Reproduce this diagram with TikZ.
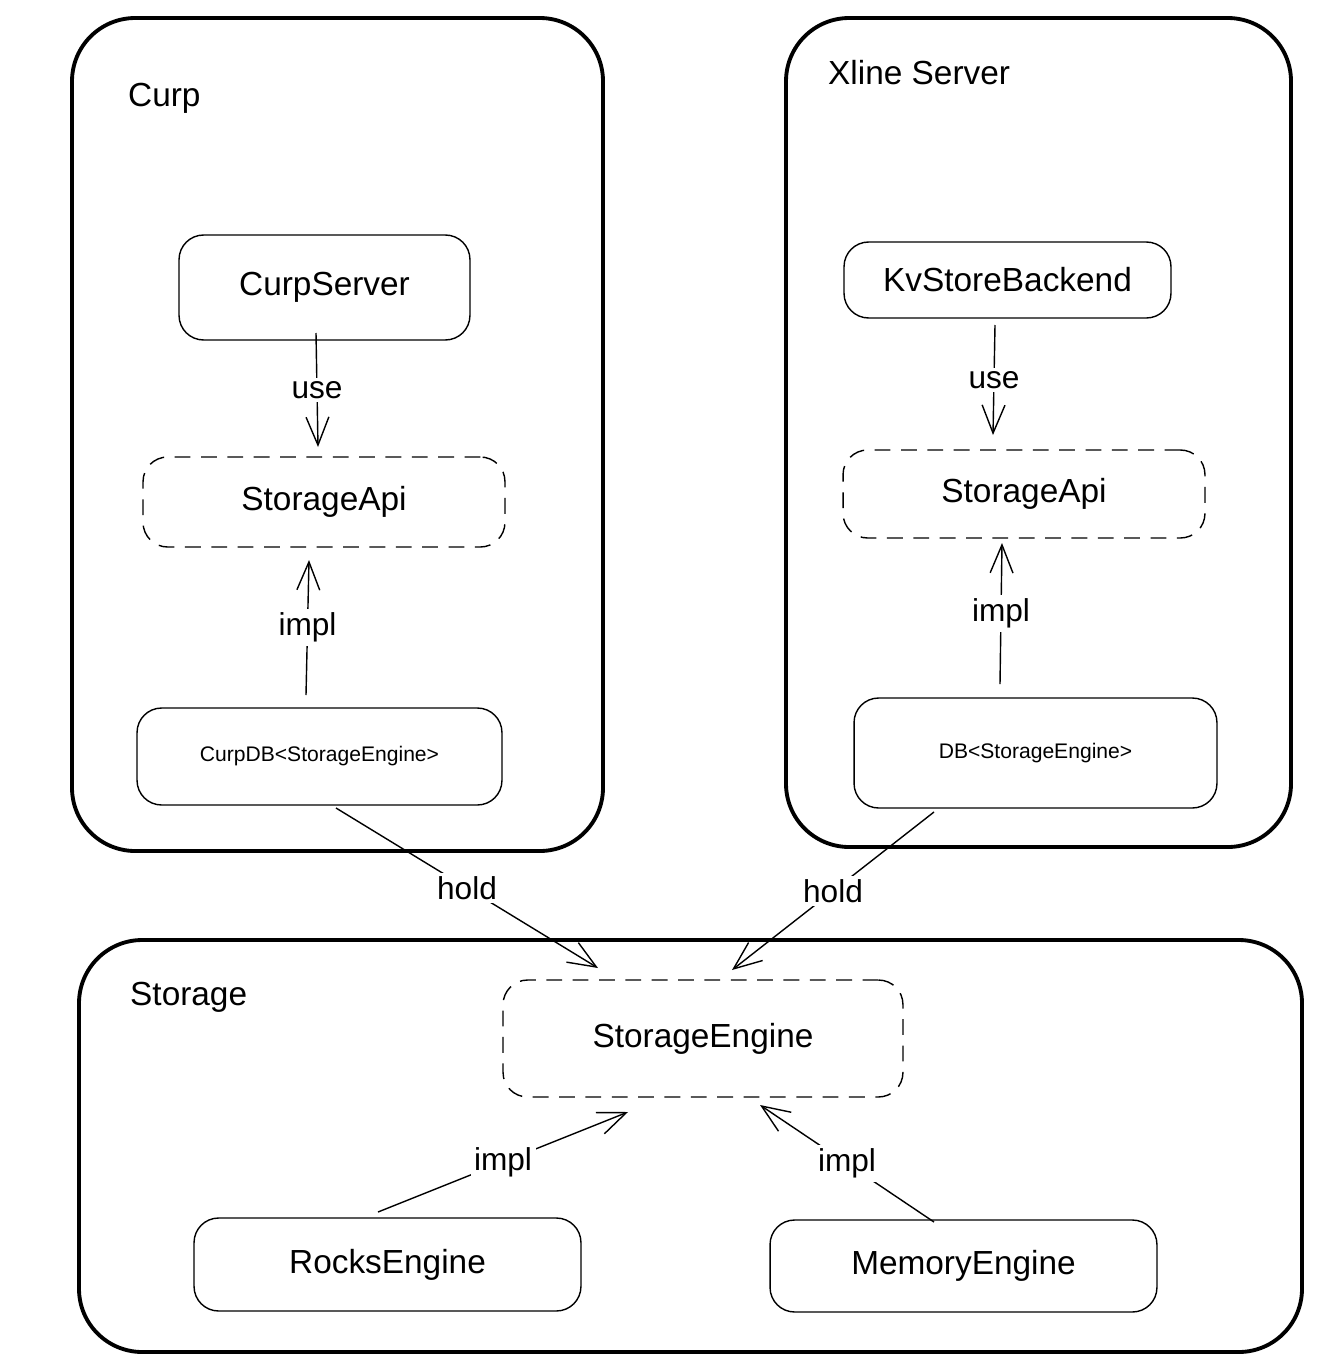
\documentclass[tikz,border=0pt]{standalone}
\usepackage{fontspec}
\setmainfont{Liberation Sans}
\usetikzlibrary{arrows.meta}
\begin{document}
\begin{tikzpicture}[x=0.02cm,y=-0.02cm,
  group/.style={draw,line width=2.2pt,rounded corners=36pt},
  box/.style={draw,line width=0.8pt,rounded corners=14pt,inner sep=0pt,font=\fontsize{19}{22}\selectfont},
  small/.style={font=\fontsize{12}{14}\selectfont},
  iface/.style={box,dash pattern=on 9pt off 6pt},
  title/.style={font=\fontsize{19}{22}\selectfont,anchor=west},
  lbl/.style={fill=white,inner sep=2pt,font=\fontsize{18}{21}\selectfont},
  rel/.style={line width=0.8pt,-{Straight Barb[length=16pt,width=13pt]}}]
\useasboundingbox (0,0) rectangle (1324,1372);
% groups
\draw[group] (72,18) rectangle (603,851);
\draw[group] (786,18) rectangle (1291,847);
\draw[group] (79,940) rectangle (1302,1352);
\node[title] (tcurp) at (122,98) {Curp};
\node[title] (txline) at (822,73) {Xline Server};
\node[title] (tstor) at (124,997) {Storage};
% nodes
\node[box,minimum width=5.82cm,minimum height=2.1cm] (cs) at (324.5,287.5) {CurpServer};
\node[iface,minimum width=7.24cm,minimum height=1.8cm] (api1) at (324,502) {StorageApi};
\node[box,small,minimum width=7.3cm,minimum height=1.94cm] (curpdb) at (319.5,756.5) {CurpDB<StorageEngine>};
\node[box,minimum width=6.54cm,minimum height=1.52cm] (kv) at (1007.5,280) {KvStoreBackend};
\node[iface,minimum width=7.24cm,minimum height=1.76cm] (api2) at (1024,494) {StorageApi};
\node[box,small,minimum width=7.26cm,minimum height=2.2cm] (db) at (1035.5,753) {DB<StorageEngine>};
\node[iface,minimum width=8cm,minimum height=2.34cm] (se) at (703,1038.5) {StorageEngine};
\node[box,minimum width=7.74cm,minimum height=1.86cm] (rocks) at (387.5,1264.5) {RocksEngine};
\node[box,minimum width=7.74cm,minimum height=1.84cm] (mem) at (963.5,1266) {MemoryEngine};
% free ends of connectors
\coordinate (c1a) at (316,333); \coordinate (c1b) at (318,447);
\coordinate (c2a) at (306,695); \coordinate (c2b) at (309,560);
\coordinate (c3a) at (995,325); \coordinate (c3b) at (993,435);
\coordinate (c4a) at (1000,684); \coordinate (c4b) at (1002,543);
\coordinate (c5a) at (336,808); \coordinate (c5b) at (598,968);
\coordinate (c6a) at (934,812); \coordinate (c6b) at (732,970);
\coordinate (c7a) at (378,1212); \coordinate (c7b) at (628,1112);
\coordinate (c8a) at (934,1222); \coordinate (c8b) at (760,1105);
% connectors
\draw[rel] (c1a) -- node[lbl] {use} (c1b);
\draw[rel] (c2a) -- node[lbl] {impl} (c2b);
\draw[rel] (c3a) -- node[lbl] {use} (c3b);
\draw[rel] (c4a) -- node[lbl] {impl} (c4b);
\draw[rel] (c5a) -- node[lbl] {hold} (c5b);
\draw[rel] (c6a) -- node[lbl] {hold} (c6b);
\draw[rel] (c7a) -- node[lbl] {impl} (c7b);
\draw[rel] (c8a) -- node[lbl] {impl} (c8b);
\end{tikzpicture}
\end{document}
